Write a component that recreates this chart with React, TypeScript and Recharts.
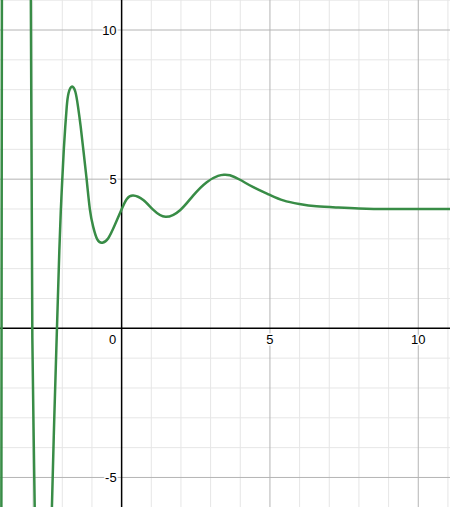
import React from 'react';
import { LineChart, Line, XAxis, YAxis, ReferenceLine, ReferenceDot, CartesianGrid } from 'recharts';

// Steep part of the curve (mostly outside the view)
const steepX = [-4.1, -4.055, -4.035, -3.55, -3.07, -3.06, -3.01, -2.97, -2.93, -2.9, -2.63, -2.4, -2.35];
const steepY = [-40, -7, 12, 45, 12.5, 11, -0.3, -3.3, -6, -8, -22, -8.3, -6];

// Smooth part of the curve
const smoothX = [
  -2.4, -2.35, -2.27, -2.18, -2.1, -2.05, -2.0, -1.95, -1.9, -1.85, -1.79, -1.68, -1.56, -1.47, -1.38,
  -1.29, -1.18, -1.07, -0.96, -0.82, -0.65, -0.45, -0.23, 0, 0.17, 0.39, 0.73, 1.07, 1.48, 1.97, 2.41,
  2.87, 3.25, 3.45, 3.65, 3.99, 4.44, 4.98, 5.45, 5.99, 6.57, 7.25, 8, 9, 10, 11.1,
];
const smoothY = [
  -8.3, -6.0, -3.0, 0.0, 2.6, 3.95, 5.0, 5.98, 6.76, 7.43, 7.88, 8.1, 7.93, 7.43, 6.76,
  5.98, 5.0, 3.99, 3.41, 2.98, 2.87, 3.02, 3.46, 3.99, 4.33, 4.45, 4.3, 3.97, 3.74, 3.96, 4.45,
  4.9, 5.11, 5.15, 5.13, 4.98, 4.73, 4.48, 4.29, 4.17, 4.09, 4.05, 4.02, 4.0, 4.0, 4.0,
];

const xMinor = [-4, -3, -2, -1, 1, 2, 3, 4, 6, 7, 8, 9, 11];
const xMajor = [5, 10];
const yMinor = [-4, -3, -2, -1, 1, 2, 3, 4, 6, 7, 8, 9, 11];
const yMajor = [-5, 5, 10];
const xTickLabels = [5, 10];
const yTickLabels = [10, 5, -5];
const originLabel = '0';

const xDomain = [-4.1, 11.07];
const yDomain = [-5.99, 11.006];

const steepData = steepX.map((x, i) => ({ x, y: steepY[i] }));
const smoothData = smoothX.map((x, i) => ({ x, y: smoothY[i] }));

const textStyle = {
  fontFamily: '"Liberation Sans", Arial, sans-serif',
  fontSize: 13,
  fill: '#000',
  stroke: '#fff',
  strokeWidth: 3,
  paintOrder: 'stroke' as const,
  strokeLinejoin: 'round' as const,
};

const makeLabel = (text: string, dx: number, dy: number, anchor: 'start' | 'middle' | 'end') =>
  (p: any) => {
    const vb = p.viewBox || {};
    const cx = (vb.x ?? 0) + (vb.width ?? 0) / 2;
    const cy = (vb.y ?? 0) + (vb.height ?? 0) / 2;
    return (
      <text x={cx + dx} y={cy + dy} textAnchor={anchor} dominantBaseline="central" style={textStyle}>
        {text}
      </text>
    );
  };

const GREEN = '#388c46';

export default function App() {
  return (
    <div style={{ position: 'absolute', left: 0, top: 0, width: 450, height: 507, background: '#fff' }}>
      <LineChart width={450} height={507} margin={{ top: 0, right: 0, bottom: 0, left: 0 }}>
        <XAxis type="number" dataKey="x" domain={xDomain} allowDataOverflow hide />
        <YAxis type="number" dataKey="y" domain={yDomain} allowDataOverflow hide />
        <CartesianGrid verticalValues={xMinor} horizontalValues={yMinor} stroke="#e6e6e6" strokeWidth={1} />
        <CartesianGrid verticalValues={xMajor} horizontalValues={yMajor} stroke="#b4b4b4" strokeWidth={1} />
        <ReferenceLine x={0} stroke="#000" strokeWidth={1.5} />
        <ReferenceLine y={0} stroke="#000" strokeWidth={1.5} />
        <Line
          data={steepData}
          type="linear"
          dataKey="y"
          stroke={GREEN}
          strokeWidth={2.5}
          dot={false}
          isAnimationActive={false}
        />
        <Line
          data={smoothData}
          type="natural"
          dataKey="y"
          stroke={GREEN}
          strokeWidth={2.5}
          dot={false}
          isAnimationActive={false}
        />
        {yTickLabels.map((v) => (
          <ReferenceDot key={'y' + v} x={0} y={v} r={0} fill="none" stroke="none"
            label={makeLabel(String(v), -5, 0, 'end')} />
        ))}
        {xTickLabels.map((v) => (
          <ReferenceDot key={'x' + v} x={v} y={0} r={0} fill="none" stroke="none"
            label={makeLabel(String(v), 0, 11, 'middle')} />
        ))}
        <ReferenceDot x={0} y={0} r={0} fill="none" stroke="none" label={makeLabel(originLabel, -9, 11, 'middle')} />
      </LineChart>
    </div>
  );
}
